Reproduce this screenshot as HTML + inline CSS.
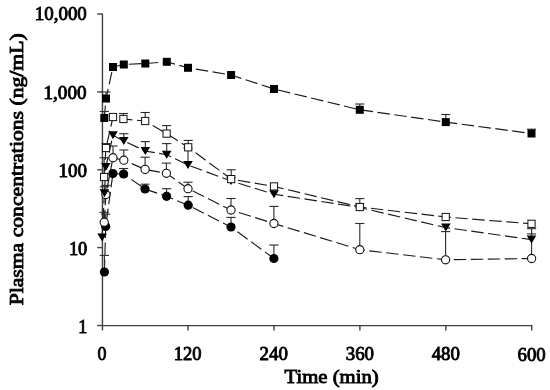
<!DOCTYPE html>
<html><head><meta charset="utf-8"><style>
html,body{margin:0;padding:0;background:#fff;}
svg{display:block;}
</style></head><body>
<svg width="550" height="390" viewBox="0 0 550 390">
<rect width="550" height="390" fill="#fff"/>
<g stroke="#404040" stroke-width="1.4" fill="none"><line x1="102.45" y1="13.4" x2="102.45" y2="325.60"/><line x1="102.45" y1="325.60" x2="532.35" y2="325.60"/><line x1="97.2" y1="14.0" x2="102.45" y2="14.0"/><line x1="97.2" y1="91.9" x2="102.45" y2="91.9"/><line x1="97.2" y1="169.8" x2="102.45" y2="169.8"/><line x1="97.2" y1="247.6" x2="102.45" y2="247.6"/><line x1="97.2" y1="325.5" x2="102.45" y2="325.5"/><line x1="102.45" y1="325.60" x2="102.45" y2="330.5"/><line x1="188.07" y1="325.60" x2="188.07" y2="330.5"/><line x1="273.99" y1="325.60" x2="273.99" y2="330.5"/><line x1="359.91" y1="325.60" x2="359.91" y2="330.5"/><line x1="445.83" y1="325.60" x2="445.83" y2="330.5"/><line x1="531.75" y1="325.60" x2="531.75" y2="330.5"/></g>
<polyline points="104.3,118.0 106.0,98.5 113.0,67.0 123.8,64.5 145.3,63.5 166.8,61.8 188.0,67.8 231.1,75.0 274.0,89.0 359.8,109.8 445.8,122.1 531.5,133.5" fill="none" stroke="#1a1a1a" stroke-width="1.15" stroke-dasharray="12.5 4.5"/>
<polyline points="104.1,177.0 106.0,148.0 113.0,117.0 123.4,119.0 145.2,121.0 166.6,133.6 188.2,147.3 231.2,179.1 274.0,186.4 359.8,207.0 445.7,217.0 531.5,223.8" fill="none" stroke="#1a1a1a" stroke-width="1.15" stroke-dasharray="12.5 4.5"/>
<polyline points="102.1,237.4 104.4,193.2 105.8,167.0 113.0,135.3 123.8,141.0 145.3,151.0 166.7,154.7 188.0,165.0 231.0,181.0 274.0,194.2 359.8,207.5 445.8,227.6 531.5,239.6" fill="none" stroke="#1a1a1a" stroke-width="1.15" stroke-dasharray="12.5 4.5"/>
<polyline points="104.2,222.2 105.9,194.5 113.0,157.7 123.8,160.2 145.1,169.4 166.4,173.3 188.0,188.7 231.0,210.0 273.9,223.5 359.8,249.7 445.6,259.8 531.6,258.5" fill="none" stroke="#1a1a1a" stroke-width="1.15" stroke-dasharray="12.5 4.5"/>
<polyline points="104.4,272.0 105.7,226.4 112.9,173.6 123.6,174.0 145.0,189.0 166.6,196.3 188.2,205.2 231.0,227.0 273.9,258.5" fill="none" stroke="#1a1a1a" stroke-width="1.15" stroke-dasharray="12.5 4.5"/>
<g stroke="#2a2a2a" stroke-width="1.1"><line x1="104.3" y1="118.0" x2="104.3" y2="111.5"/><line x1="99.7" y1="111.5" x2="108.9" y2="111.5"/><line x1="106.0" y1="98.5" x2="106.0" y2="92.0"/><line x1="101.4" y1="92.0" x2="110.6" y2="92.0"/><line x1="359.8" y1="109.8" x2="359.8" y2="104.0"/><line x1="355.2" y1="104.0" x2="364.4" y2="104.0"/><line x1="445.8" y1="122.1" x2="445.8" y2="114.5"/><line x1="441.2" y1="114.5" x2="450.4" y2="114.5"/><line x1="531.5" y1="133.5" x2="531.5" y2="129.2"/><line x1="526.9" y1="129.2" x2="536.1" y2="129.2"/></g>
<g stroke="#2a2a2a" stroke-width="1.1"><line x1="104.1" y1="177.0" x2="104.1" y2="157.7"/><line x1="99.5" y1="157.7" x2="108.7" y2="157.7"/><line x1="106.0" y1="148.0" x2="106.0" y2="143.6"/><line x1="101.4" y1="143.6" x2="110.6" y2="143.6"/><line x1="123.4" y1="119.0" x2="123.4" y2="113.5"/><line x1="118.8" y1="113.5" x2="128.0" y2="113.5"/><line x1="145.2" y1="121.0" x2="145.2" y2="112.5"/><line x1="140.6" y1="112.5" x2="149.8" y2="112.5"/><line x1="166.6" y1="133.6" x2="166.6" y2="125.6"/><line x1="162.0" y1="125.6" x2="171.2" y2="125.6"/><line x1="188.2" y1="147.3" x2="188.2" y2="140.4"/><line x1="183.6" y1="140.4" x2="192.8" y2="140.4"/><line x1="231.2" y1="179.1" x2="231.2" y2="169.8"/><line x1="226.6" y1="169.8" x2="235.8" y2="169.8"/><line x1="359.8" y1="207.0" x2="359.8" y2="198.6"/><line x1="355.2" y1="198.6" x2="364.4" y2="198.6"/></g>
<g stroke="#2a2a2a" stroke-width="1.1"><line x1="104.4" y1="193.2" x2="104.4" y2="186.8"/><line x1="99.8" y1="186.8" x2="109.0" y2="186.8"/><line x1="123.8" y1="141.0" x2="123.8" y2="133.7"/><line x1="119.2" y1="133.7" x2="128.4" y2="133.7"/><line x1="145.3" y1="151.0" x2="145.3" y2="141.6"/><line x1="140.7" y1="141.6" x2="149.9" y2="141.6"/><line x1="166.7" y1="154.7" x2="166.7" y2="143.6"/><line x1="162.1" y1="143.6" x2="171.3" y2="143.6"/><line x1="188.0" y1="165.0" x2="188.0" y2="148.0"/><line x1="183.4" y1="148.0" x2="192.6" y2="148.0"/><line x1="531.5" y1="239.6" x2="531.5" y2="233.9"/><line x1="526.9" y1="233.9" x2="536.1" y2="233.9"/></g>
<g stroke="#2a2a2a" stroke-width="1.1"><line x1="104.2" y1="222.2" x2="104.2" y2="212.3"/><line x1="99.6" y1="212.3" x2="108.8" y2="212.3"/><line x1="105.9" y1="194.5" x2="105.9" y2="185.4"/><line x1="101.3" y1="185.4" x2="110.5" y2="185.4"/><line x1="113.0" y1="157.7" x2="113.0" y2="146.0"/><line x1="108.4" y1="146.0" x2="117.6" y2="146.0"/><line x1="123.8" y1="160.2" x2="123.8" y2="150.0"/><line x1="119.2" y1="150.0" x2="128.4" y2="150.0"/><line x1="145.1" y1="169.4" x2="145.1" y2="157.2"/><line x1="140.5" y1="157.2" x2="149.7" y2="157.2"/><line x1="166.4" y1="173.3" x2="166.4" y2="163.1"/><line x1="161.8" y1="163.1" x2="171.0" y2="163.1"/><line x1="188.0" y1="188.7" x2="188.0" y2="182.2"/><line x1="183.4" y1="182.2" x2="192.6" y2="182.2"/><line x1="231.0" y1="210.0" x2="231.0" y2="198.5"/><line x1="226.4" y1="198.5" x2="235.6" y2="198.5"/><line x1="273.9" y1="223.5" x2="273.9" y2="206.4"/><line x1="269.3" y1="206.4" x2="278.5" y2="206.4"/><line x1="359.8" y1="249.7" x2="359.8" y2="223.5"/><line x1="355.2" y1="223.5" x2="364.4" y2="223.5"/><line x1="445.6" y1="259.8" x2="445.6" y2="231.6"/><line x1="441.0" y1="231.6" x2="450.2" y2="231.6"/><line x1="531.6" y1="258.5" x2="531.6" y2="228.7"/><line x1="527.0" y1="228.7" x2="536.2" y2="228.7"/></g>
<g stroke="#2a2a2a" stroke-width="1.1"><line x1="104.4" y1="272.0" x2="104.4" y2="255.4"/><line x1="99.8" y1="255.4" x2="109.0" y2="255.4"/><line x1="105.7" y1="226.4" x2="105.7" y2="214.2"/><line x1="101.1" y1="214.2" x2="110.3" y2="214.2"/><line x1="123.6" y1="174.0" x2="123.6" y2="168.5"/><line x1="119.0" y1="168.5" x2="128.2" y2="168.5"/><line x1="145.0" y1="189.0" x2="145.0" y2="184.2"/><line x1="140.4" y1="184.2" x2="149.6" y2="184.2"/><line x1="166.6" y1="196.3" x2="166.6" y2="188.7"/><line x1="162.0" y1="188.7" x2="171.2" y2="188.7"/><line x1="188.2" y1="205.2" x2="188.2" y2="196.6"/><line x1="183.6" y1="196.6" x2="192.8" y2="196.6"/><line x1="231.0" y1="227.0" x2="231.0" y2="217.4"/><line x1="226.4" y1="217.4" x2="235.6" y2="217.4"/><line x1="273.9" y1="258.5" x2="273.9" y2="245.0"/><line x1="269.3" y1="245.0" x2="278.5" y2="245.0"/></g>
<g fill="#000"><circle cx="104.4" cy="272.0" r="4.6"/><circle cx="105.7" cy="226.4" r="4.6"/><circle cx="112.9" cy="173.6" r="4.6"/><circle cx="123.6" cy="174.0" r="4.6"/><circle cx="145.0" cy="189.0" r="4.6"/><circle cx="166.6" cy="196.3" r="4.6"/><circle cx="188.2" cy="205.2" r="4.6"/><circle cx="231.0" cy="227.0" r="4.6"/><circle cx="273.9" cy="258.5" r="4.6"/></g>
<g fill="#fff" stroke="#111" stroke-width="1.1"><circle cx="104.2" cy="222.2" r="4.1"/><circle cx="105.9" cy="194.5" r="4.1"/><circle cx="113.0" cy="157.7" r="4.1"/><circle cx="123.8" cy="160.2" r="4.1"/><circle cx="145.1" cy="169.4" r="4.1"/><circle cx="166.4" cy="173.3" r="4.1"/><circle cx="188.0" cy="188.7" r="4.1"/><circle cx="231.0" cy="210.0" r="4.1"/><circle cx="273.9" cy="223.5" r="4.1"/><circle cx="359.8" cy="249.7" r="4.1"/><circle cx="445.6" cy="259.8" r="4.1"/><circle cx="531.6" cy="258.5" r="4.1"/></g>
<g fill="#000"><polygon points="97.3,233.4 106.9,233.4 102.1,241.4"/><polygon points="99.6,189.2 109.2,189.2 104.4,197.2"/><polygon points="101.0,163.0 110.6,163.0 105.8,171.0"/><polygon points="108.2,131.3 117.8,131.3 113.0,139.3"/><polygon points="119.0,137.0 128.6,137.0 123.8,145.0"/><polygon points="140.5,147.0 150.1,147.0 145.3,155.0"/><polygon points="161.9,150.7 171.5,150.7 166.7,158.7"/><polygon points="183.2,161.0 192.8,161.0 188.0,169.0"/><polygon points="226.2,177.0 235.8,177.0 231.0,185.0"/><polygon points="269.2,190.2 278.8,190.2 274.0,198.2"/><polygon points="355.0,203.5 364.6,203.5 359.8,211.5"/><polygon points="441.0,223.6 450.6,223.6 445.8,231.6"/><polygon points="526.7,235.6 536.3,235.6 531.5,243.6"/></g>
<g fill="#fff" stroke="#111" stroke-width="1"><rect x="100.5" y="173.4" width="7.2" height="7.2"/><rect x="102.4" y="144.4" width="7.2" height="7.2"/><rect x="109.4" y="113.4" width="7.2" height="7.2"/><rect x="119.8" y="115.4" width="7.2" height="7.2"/><rect x="141.6" y="117.4" width="7.2" height="7.2"/><rect x="163.0" y="130.0" width="7.2" height="7.2"/><rect x="184.6" y="143.7" width="7.2" height="7.2"/><rect x="227.6" y="175.5" width="7.2" height="7.2"/><rect x="270.4" y="182.8" width="7.2" height="7.2"/><rect x="356.2" y="203.4" width="7.2" height="7.2"/><rect x="442.1" y="213.4" width="7.2" height="7.2"/><rect x="527.9" y="220.2" width="7.2" height="7.2"/></g>
<g fill="#000"><rect x="100.3" y="114.0" width="8.0" height="8.0"/><rect x="102.0" y="94.5" width="8.0" height="8.0"/><rect x="109.0" y="63.0" width="8.0" height="8.0"/><rect x="119.8" y="60.5" width="8.0" height="8.0"/><rect x="141.3" y="59.5" width="8.0" height="8.0"/><rect x="162.8" y="57.8" width="8.0" height="8.0"/><rect x="184.0" y="63.8" width="8.0" height="8.0"/><rect x="227.1" y="71.0" width="8.0" height="8.0"/><rect x="270.0" y="85.0" width="8.0" height="8.0"/><rect x="355.8" y="105.8" width="8.0" height="8.0"/><rect x="441.8" y="118.1" width="8.0" height="8.0"/><rect x="527.5" y="129.5" width="8.0" height="8.0"/></g>
<g font-family="'Liberation Serif', serif" font-weight="normal" stroke="#000" stroke-width="0.85" font-size="18.4" fill="#000"><text x="60.80" y="19.60" text-anchor="middle" textLength="52.00" lengthAdjust="spacingAndGlyphs">10,000</text><text x="65.00" y="99.10" text-anchor="middle" textLength="43.00" lengthAdjust="spacingAndGlyphs">1,000</text><text x="72.80" y="176.90" text-anchor="middle" textLength="28.50" lengthAdjust="spacingAndGlyphs">100</text><text x="78.10" y="255.00" text-anchor="middle" textLength="18.40" lengthAdjust="spacingAndGlyphs">10</text><text x="82.70" y="332.50" text-anchor="middle" textLength="9.00" lengthAdjust="spacingAndGlyphs">1</text><text x="102.10" y="359.70" text-anchor="middle" textLength="9.00" lengthAdjust="spacingAndGlyphs">0</text><text x="187.70" y="360.10" text-anchor="middle" textLength="27.80" lengthAdjust="spacingAndGlyphs">120</text><text x="273.80" y="360.10" text-anchor="middle" textLength="28.40" lengthAdjust="spacingAndGlyphs">240</text><text x="359.90" y="360.10" text-anchor="middle" textLength="28.30" lengthAdjust="spacingAndGlyphs">360</text><text x="445.85" y="360.10" text-anchor="middle" textLength="28.30" lengthAdjust="spacingAndGlyphs">480</text><text x="531.60" y="360.60" text-anchor="middle" textLength="28.20" lengthAdjust="spacingAndGlyphs">600</text><text x="331.60" y="382.50" text-anchor="middle" textLength="94.20" lengthAdjust="spacingAndGlyphs">Time (min)</text><text transform="translate(23.00,169.35) rotate(-90)" text-anchor="middle" textLength="272.00" lengthAdjust="spacingAndGlyphs">Plasma concentrations (ng/mL)</text></g>
</svg>
</body></html>
